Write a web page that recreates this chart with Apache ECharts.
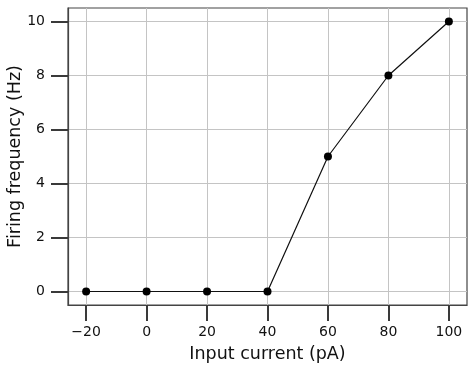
<!DOCTYPE html>
<html>
<head>
<meta charset="utf-8">
<script src="https://cdn.jsdelivr.net/npm/echarts@6/dist/echarts.min.js"></script>
<style>
    html, body { margin: 0; padding: 0; background: #fff; }
    #chart { width: 474px; height: 370px; }
</style>
</head>
<body>
<div id="chart"></div>
<script>
// input current (pA) and firing rate (Hz)
const currents = [-20, 0, 20, 40, 60, 80, 100];
const rates = [0, 0, 0, 0, 5, 8, 10];
const xTicks = [-20, 0, 20, 40, 60, 80, 100];
const yTicks = [0, 2, 4, 6, 8, 10];

const font = 'DejaVu Sans';
const tickColor = '#3a3a3a';
const gridColor = '#c4c4c4';

const chart = echarts.init(document.getElementById('chart'));

chart.setOption({
    animation: false,
    grid: {
        left: 68,
        right: 7,
        top: 8,
        bottom: 65,
        outerBoundsMode: 'none',
        containLabel: false,
        show: true,
        borderColor: '#444',
        borderWidth: 1.2
    },
    xAxis: {
        type: 'value',
        min: -26,
        max: 106,
        name: 'Input current (pA)',
        nameLocation: 'middle',
        nameGap: 40,
        nameMoveOverlap: false,
        nameTextStyle: { fontFamily: font, fontSize: 17.5, color: '#111' },
        axisLine: { show: true, onZero: false, lineStyle: { color: '#444', width: 1.2 } },
        axisTick: {
            show: true,
            inside: false,
            customValues: xTicks,
            length: 16,
            lineStyle: { color: tickColor, width: 2 }
        },
        axisLabel: {
            customValues: xTicks,
            margin: 20,
            fontFamily: font,
            fontSize: 14,
            color: '#111',
            formatter: v => (v < 0 ? '\u2212' + Math.abs(v) : String(v))
        },
        splitLine: { show: true, lineStyle: { color: gridColor, width: 1 } }
    },
    yAxis: {
        type: 'value',
        min: -0.5,
        max: 10.5,
        name: 'Firing frequency (Hz)',
        nameLocation: 'middle',
        nameGap: 44,
        nameMoveOverlap: false,
        nameTextStyle: { fontFamily: font, fontSize: 17.5, color: '#111' },
        axisLine: { show: true, onZero: false, lineStyle: { color: '#444', width: 1.2 } },
        axisTick: {
            show: true,
            inside: false,
            customValues: yTicks,
            length: 17,
            lineStyle: { color: tickColor, width: 2 }
        },
        axisLabel: {
            customValues: yTicks,
            margin: 23,
            fontFamily: font,
            fontSize: 14,
            color: '#111'
        },
        splitLine: { show: true, lineStyle: { color: gridColor, width: 1 } }
    },
    series: [{
        type: 'line',
        data: currents.map((c, i) => [c, rates[i]]),
        symbol: 'circle',
        symbolSize: 8,
        showSymbol: true,
        lineStyle: { color: '#111', width: 1.2 },
        itemStyle: { color: '#000' }
    }]
});
</script>
</body>
</html>
